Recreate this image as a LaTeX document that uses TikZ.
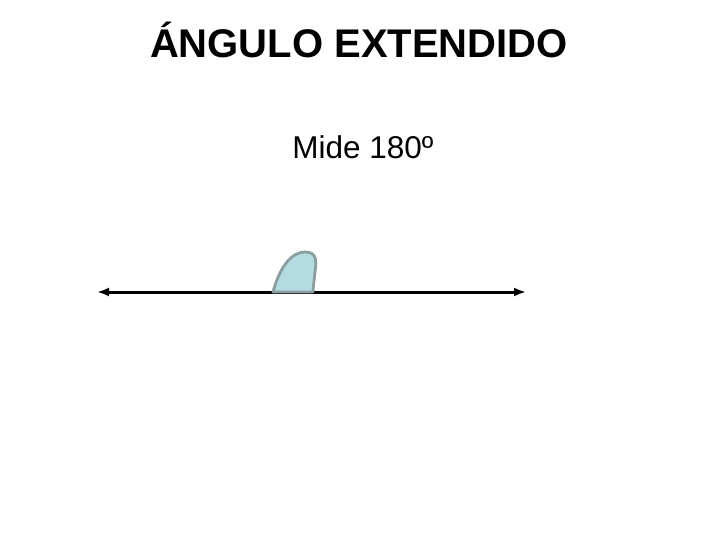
\documentclass[tikz,border=0pt]{standalone}
\usepackage{fontspec}
\setmainfont{Liberation Sans}
\usetikzlibrary{arrows.meta}
\definecolor{blobfill}{HTML}{B4DCE0}
\definecolor{blobedge}{HTML}{8A9EA2}
\begin{document}
\begin{tikzpicture}[x=1pt,y=-1pt,
  title/.style={font=\fontsize{40}{44}\selectfont\bfseries, anchor=base, inner sep=0pt},
  sub/.style={font=\fontsize{31.5}{34}\selectfont, anchor=base, inner sep=0pt},
  ray/.style={line width=3pt, {Latex[length=12pt,width=9pt]}-{Latex[length=12pt,width=9pt]}},
  blob/.style={fill=blobfill, draw=blobedge, line width=2.8pt, line join=round}]
\useasboundingbox (0,0) rectangle (720,540);
\node[title] (t) at (359,58) {ÁNGULO EXTENDIDO};
\node[sub] (s) at (363,159) {Mide 180º};
\coordinate (l) at (97,292);
\coordinate (r) at (526,292);
\draw[ray] (l) -- (r);
\draw[blob] (273,292) .. controls (280,266) and (292,252) .. (305,252)
  .. controls (318,252) and (316,262) .. (315,272)
  .. controls (314,282) and (313,288) .. (313,292) -- cycle;
\end{tikzpicture}
\end{document}
